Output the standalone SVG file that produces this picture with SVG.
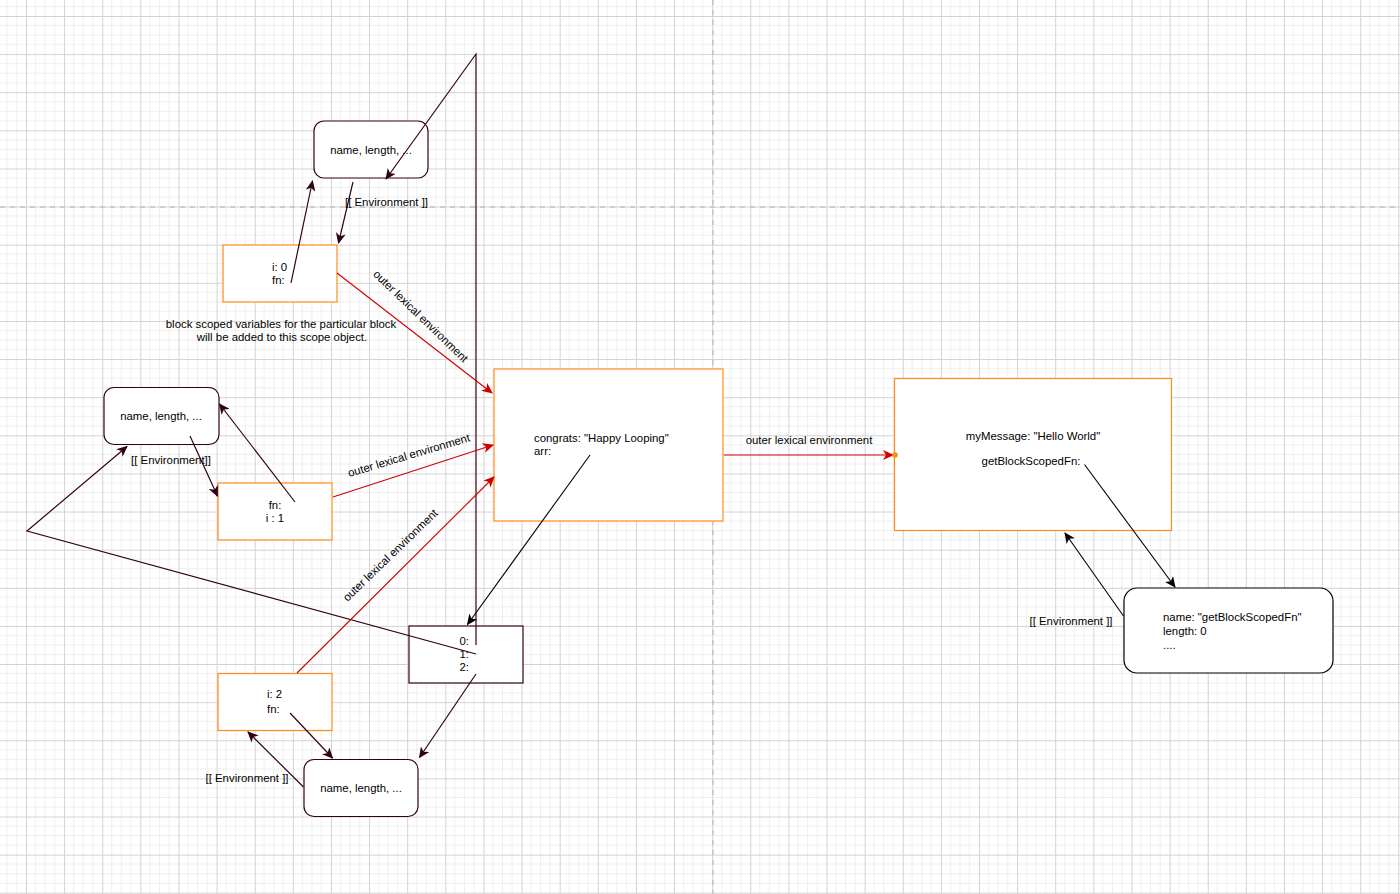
<svg xmlns="http://www.w3.org/2000/svg" width="1400" height="894" viewBox="0 0 1400 894">
<style>
text{font-family:"Liberation Sans",Arial,sans-serif;font-size:11.4px;fill:#000}
.c{text-anchor:middle}
.obj{fill:#fff;stroke:#33001A;stroke-width:1.2}
.scope{fill:#fff;stroke:#FF8C1A;stroke-width:1.2}
.fobj{fill:#fff;stroke:#000;stroke-width:1.2}
.m{fill:none;stroke:#33001A;stroke-width:1.2;marker-end:url(#am)}
.r{fill:none;stroke:#D00000;stroke-width:1.1;marker-end:url(#ar)}
.k{fill:none;stroke:#000;stroke-width:1.1;marker-end:url(#ak)}
</style>
<defs>
<pattern id="grid" patternUnits="userSpaceOnUse" x="26" y="16" width="38.12" height="38.12">
<path d="M9.53 0V38.12M19.06 0V38.12M28.59 0V38.12M0 9.53H38.12M0 19.06H38.12M0 28.59H38.12" stroke="#eeeeee" stroke-width="1" fill="none"/>
<path d="M0.5 0V38.12M0 0.5H38.12" stroke="#d2d2d2" stroke-width="1" fill="none"/>
</pattern>
<marker id="am" markerUnits="userSpaceOnUse" markerWidth="12" markerHeight="10" refX="10" refY="5" orient="auto"><path d="M0 0L11 5L0 10L3 5Z" fill="#33001A"/></marker>
<marker id="ar" markerUnits="userSpaceOnUse" markerWidth="12" markerHeight="10" refX="10" refY="5" orient="auto"><path d="M0 0L11 5L0 10L3 5Z" fill="#D00000"/></marker>
<marker id="ak" markerUnits="userSpaceOnUse" markerWidth="12" markerHeight="10" refX="10" refY="5" orient="auto"><path d="M0 0L11 5L0 10L3 5Z" fill="#000"/></marker>
</defs>
<rect width="1400" height="894" fill="#fff"/>
<rect width="1400" height="894" fill="url(#grid)"/>
<path d="M713 0V894M0 207H1400" stroke="#c4c4c4" stroke-width="1.5" stroke-dasharray="5 5" fill="none"/>

<g id="note">
<text class="c" x="281" y="328">block scoped variables for the particular block</text>
<text class="c" x="282" y="341">will be added to this scope object.</text>
</g>

<g id="fnobj-top">
<rect class="obj" x="314" y="121" width="114" height="57" rx="10"/>
<text class="c" x="371" y="154">name, length, ...</text>
</g>

<g id="scope-i0">
<rect class="scope" x="223" y="245" width="114" height="57"/>
<text x="272" y="271">i: 0</text>
<text x="272" y="284">fn:</text>
</g>

<g id="fnobj-left">
<rect class="obj" x="104" y="387.5" width="115" height="57" rx="10"/>
<text class="c" x="161" y="420">name, length, ...</text>
</g>

<g id="scope-i1">
<rect class="scope" x="218" y="483" width="114" height="57"/>
<text class="c" x="275" y="509">fn:</text>
<text class="c" x="275" y="522">i : 1</text>
</g>

<g id="loop-scope">
<rect class="scope" x="494" y="369" width="229" height="152"/>
<text x="534" y="442">congrats: "Happy Looping"</text>
<text x="534" y="455">arr:</text>
</g>

<g id="arr">
<rect class="obj" x="409" y="626" width="114" height="57"/>
<text x="469" y="645" text-anchor="end">0:</text>
<text x="469" y="658" text-anchor="end">1:</text>
<text x="469" y="671" text-anchor="end">2:</text>
</g>

<g id="scope-i2">
<rect class="scope" x="218" y="673.5" width="114" height="57"/>
<text x="267" y="698">i: 2</text>
<text x="267" y="713">fn:</text>
</g>

<g id="fnobj-bottom">
<rect class="obj" x="304" y="759.5" width="114" height="57" rx="10"/>
<text class="c" x="361" y="792">name, length, ...</text>
</g>

<g id="global-scope">
<rect class="scope" x="894.5" y="378.5" width="277" height="152"/>
<text class="c" x="1033" y="440">myMessage: "Hello World"</text>
<text class="c" x="1031" y="465">getBlockScopedFn:</text>
</g>

<g id="fnobj-getBlockScopedFn">
<rect class="fobj" x="1124" y="588" width="209" height="85" rx="13"/>
<text x="1163" y="621">name: "getBlockScopedFn"</text>
<text x="1163" y="635">length: 0</text>
<text x="1163" y="649">....</text>
</g>

<g id="connectors">
<polyline class="m" points="476,645 476,54 386,179"/>
<line class="m" x1="291" y1="283" x2="312.5" y2="181"/>
<line class="m" x1="353" y1="182" x2="338.5" y2="243"/>
<line class="r" x1="337" y1="273" x2="492" y2="393"/>
<line class="m" x1="295" y1="502" x2="219.5" y2="404"/>
<line class="m" x1="190" y1="436" x2="217.5" y2="496"/>
<polyline class="m" points="476,654 27,531 127,446.5"/>
<line class="r" x1="333" y1="497" x2="493" y2="445"/>
<line class="r" x1="297" y1="673" x2="494" y2="477"/>
<line class="k" x1="590" y1="455" x2="467.5" y2="624.5"/>
<line class="m" x1="476" y1="674" x2="419.5" y2="757.5"/>
<line class="m" x1="290" y1="713" x2="332.5" y2="758"/>
<line class="m" x1="303.5" y1="787" x2="248" y2="732"/>
<line class="r" x1="724" y1="455" x2="893" y2="455"/>
<circle cx="895" cy="455" r="2.8" fill="#FF8C1A"/>
<line class="k" x1="1084.5" y1="464.5" x2="1175" y2="587"/>
<line class="k" x1="1123.5" y1="616" x2="1065" y2="533"/>
<text class="c" x="386.5" y="206">[[ Environment ]]</text>
<text class="c" x="171" y="464">[[ Environment]]</text>
<text class="c" x="247" y="782">[[ Environment ]]</text>
<text class="c" x="1071" y="625">[[ Environment ]]</text>
<text class="c" transform="translate(418,319) rotate(44)">outer lexical environment</text>
<text class="c" transform="translate(410,459) rotate(-16.5)">outer lexical environment</text>
<text class="c" transform="translate(393,558) rotate(-44)">outer lexical environment</text>
<text class="c" x="809" y="444">outer lexical environment</text>
</g>
</svg>
